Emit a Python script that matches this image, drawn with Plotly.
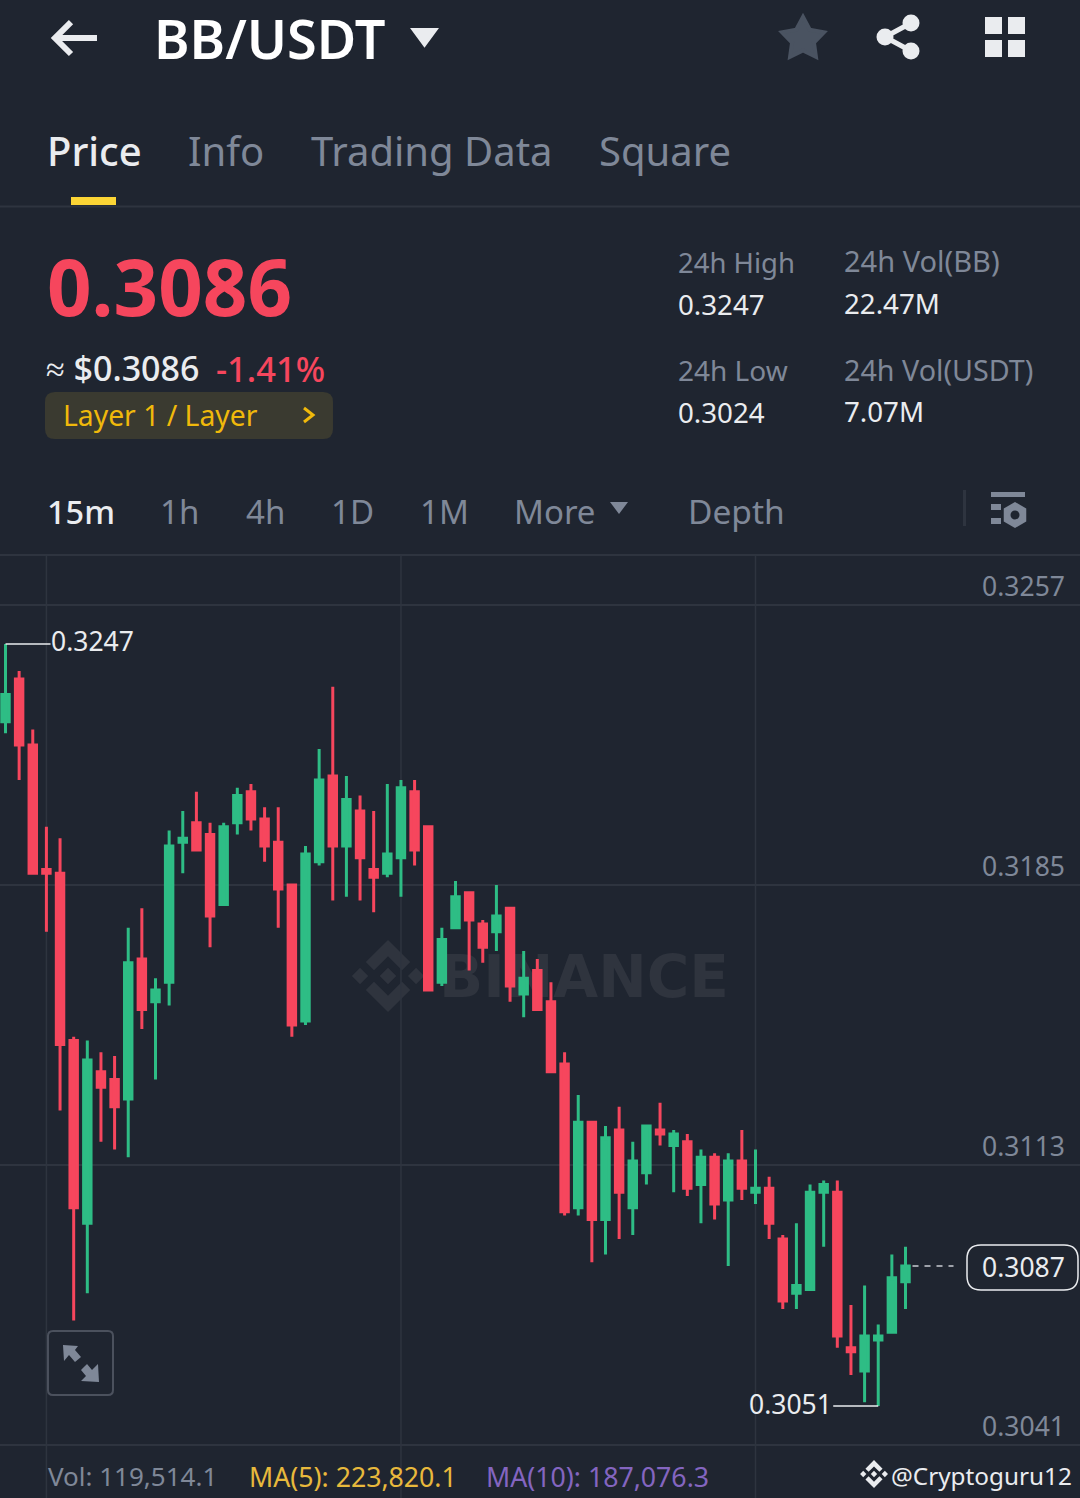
import math
import plotly.graph_objects as go

# ---------- data ----------
symbol = "BB/USDT"
last_price = 0.3087
high_label = 0.3247
low_label = 0.3051
price_ticks = [0.3257, 0.3185, 0.3113, 0.3041]
time_grid = [3, 29, 55]

opens = [0.3227,0.3238,0.3221,0.3189,0.3188,0.3145,0.3098,0.3137,0.3135,0.3130,0.3166,0.3155,0.3160,0.3196,0.3201,0.3198,0.3180,
         0.3201,0.3209,0.3202,0.3196,0.3185,0.3150,0.3191,0.3213,0.3195,0.3204,0.3189,0.3188,0.3192,0.3209,0.3200,0.3160,0.3174,
         0.3183,0.3175,0.3173,0.3179,0.3157,0.3163,0.3155,0.3139,0.3102,0.3124,0.3099,0.3122,0.3102,0.3111,0.3122,0.3118,0.3119,
         0.3108,0.3115,0.3104,0.3114,0.3106,0.3107,0.3094,0.3080,0.3081,0.3106,0.3106,0.3066,0.3060,0.3068,0.3070,0.3083]
highs = [0.3247,0.3240,0.3225,0.3200,0.3197,0.3146,0.3145,0.3142,0.3141,0.3174,0.3179,0.3161,0.3199,0.3204,0.3209,0.3201,0.3201,
         0.3210,0.3211,0.3205,0.3205,0.3185,0.3195,0.3220,0.3236,0.3213,0.3208,0.3204,0.3211,0.3212,0.3212,0.3200,0.3174,0.3186,
         0.3183,0.3176,0.3185,0.3179,0.3168,0.3166,0.3160,0.3142,0.3131,0.3124,0.3123,0.3128,0.3119,0.3123,0.3129,0.3122,0.3121,
         0.3117,0.3116,0.3116,0.3122,0.3117,0.3110,0.3095,0.3098,0.3108,0.3109,0.3109,0.3077,0.3082,0.3072,0.3090,0.3092]
lows = [0.3224,0.3212,0.3188,0.3173,0.3127,0.3073,0.3080,0.3119,0.3117,0.3115,0.3148,0.3135,0.3154,0.3188,0.3194,0.3169,0.3180,
        0.3198,0.3199,0.3191,0.3174,0.3146,0.3149,0.3190,0.3181,0.3182,0.3181,0.3178,0.3187,0.3182,0.3190,0.3158,0.3159,0.3174,
        0.3163,0.3165,0.3168,0.3155,0.3151,0.3153,0.3137,0.3100,0.3100,0.3088,0.3090,0.3094,0.3095,0.3108,0.3118,0.3106,0.3105,
        0.3098,0.3099,0.3087,0.3104,0.3103,0.3094,0.3076,0.3076,0.3081,0.3092,0.3066,0.3059,0.3052,0.3051,0.3070,0.3076]
closes = [0.3234,0.3221,0.3188,0.3188,0.3144,0.3102,0.3140,0.3133,0.3128,0.3165,0.3153,0.3158,0.3195,0.3197,0.3194,0.3177,0.3200,
          0.3208,0.3202,0.3195,0.3184,0.3149,0.3193,0.3212,0.3195,0.3207,0.3192,0.3187,0.3193,0.3210,0.3194,0.3158,0.3171,0.3182,
          0.3176,0.3169,0.3177,0.3159,0.3161,0.3153,0.3137,0.3101,0.3124,0.3099,0.3120,0.3106,0.3114,0.3123,0.3121,0.3121,0.3107,
          0.3115,0.3103,0.3114,0.3107,0.3107,0.3098,0.3078,0.3082,0.3106,0.3108,0.3069,0.3065,0.3069,0.3069,0.3084,0.3087]
candle_index = list(range(len(opens)))

# ---------- style ----------
W, H = 1080, 1498
BG = "#1f2530"
GRID = "#2e343f"
RED = "#F6465D"
GREEN = "#2EBD85"
WHITE = "#EAECEF"
GREY = "#7f8898"
YELLOW = "#FCD535"
FONT = "Noto Sans"
TOP, BOTTOM = 555, 1445
PX_PER_PRICE = 280 / 0.0072
STEP = 900 / 66

def fx(x): return x / W
def fy(y): return 1 - y / H

shapes = []
annotations = []

def label(text, x, y, size, color, anchor="left", weight=400, font=FONT):
    annotations.append(dict(text=text, x=fx(x), y=fy(y), xref="paper", yref="paper",
                            xanchor=anchor, yanchor="middle", showarrow=False, borderpad=0, borderwidth=0,
                            font=dict(family=font, size=size, color=color, weight=weight)))

def path(points, fill=None, stroke=None, width=0, close=True, layer="above"):
    d = "M " + " L ".join(f"{fx(a):.5f},{fy(b):.5f}" for a, b in points) + (" Z" if close else "")
    shapes.append(dict(type="path", path=d, xref="paper", yref="paper", layer=layer,
                       fillcolor=fill if fill else "rgba(0,0,0,0)",
                       line=dict(color=stroke if stroke else "rgba(0,0,0,0)", width=width)))

def rect(x0, y0, x1, y1, fill, layer="above"):
    shapes.append(dict(type="rect", xref="paper", yref="paper", x0=fx(x0), x1=fx(x1), y0=fy(y1), y1=fy(y0),
                       fillcolor=fill, line=dict(width=0), layer=layer))

def hline(y, x0=0, x1=W, color=GRID, width=2):
    shapes.append(dict(type="line", xref="paper", yref="paper", x0=fx(x0), x1=fx(x1), y0=fy(y), y1=fy(y),
                       line=dict(color=color, width=width), layer="below"))

def circle(cx, cy, r, fill):
    shapes.append(dict(type="circle", xref="paper", yref="paper", x0=fx(cx - r), x1=fx(cx + r),
                       y0=fy(cy + r), y1=fy(cy - r), fillcolor=fill, line=dict(width=0)))

def rrect(x0, y0, x1, y1, r, fill=None, stroke=None, width=0, layer="above"):
    def X(a): return f"{fx(a):.5f}"
    def Y(b): return f"{fy(b):.5f}"
    d = (f"M {X(x0+r)},{Y(y0)} L {X(x1-r)},{Y(y0)} Q {X(x1)},{Y(y0)} {X(x1)},{Y(y0+r)} "
         f"L {X(x1)},{Y(y1-r)} Q {X(x1)},{Y(y1)} {X(x1-r)},{Y(y1)} L {X(x0+r)},{Y(y1)} "
         f"Q {X(x0)},{Y(y1)} {X(x0)},{Y(y1-r)} L {X(x0)},{Y(y0+r)} Q {X(x0)},{Y(y0)} {X(x0+r)},{Y(y0)} Z")
    shapes.append(dict(type="path", path=d, xref="paper", yref="paper", layer=layer,
                       fillcolor=fill if fill else "rgba(0,0,0,0)",
                       line=dict(color=stroke if stroke else "rgba(0,0,0,0)", width=width)))

LOGO = [
    [(38.73,53.2),(63.32,28.62),(87.92,53.22),(102.22,38.91),(63.32,0),(24.42,38.9)],
    [(0,63.31),(14.3,49),(28.61,63.31),(14.3,77.61)],
    [(38.73,73.41),(63.32,98),(87.92,73.4),(102.23,87.69),(63.33,126.6),(24.42,87.72)],
    [(98.28,63.31),(112.58,49),(126.89,63.3),(112.58,77.62)],
    [(77.83,63.3),(63.32,48.78),(48.81,63.28),(63.32,77.78)],
]
def logo(cx, cy, s, fill, layer="above"):
    for poly in LOGO:
        path([(cx + (a - 63.3) * s, cy + (b - 63.3) * s) for a, b in poly], fill=fill, layer=layer)

# ---------- header ----------
path([(97, 38), (56, 38)], stroke=WHITE, width=6, close=False)
path([(71, 22), (55, 38), (71, 54)], stroke=WHITE, width=6, close=False)
label(symbol, 154, 38, 54, "#FFFFFF", weight=600)
path([(412, 29), (437, 29), (424.5, 46)], fill=WHITE, stroke=WHITE, width=2)

star = []
for i in range(10):
    r = 22 if i % 2 == 0 else 11.5
    ang = -math.pi / 2 + i * math.pi / 5
    star.append((803 + r * math.cos(ang), 39 + r * math.sin(ang)))
path(star, fill="#4a5361", stroke="#4a5361", width=4)

path([(911, 23), (885, 37), (911, 51)], stroke=WHITE, width=5, close=False)
circle(911, 23, 8.5, WHITE); circle(885, 37, 8.5, WHITE); circle(911, 51, 8.5, WHITE)
for x0, x1 in ((985, 1002), (1008, 1025)):
    for y0, y1 in ((17, 34), (40, 57)):
        rect(x0, y0, x1, y1, WHITE)

# ---------- tabs ----------
label("Price", 47, 151, 40, WHITE, weight=500)
label("Info", 188, 151, 40, GREY)
label("Trading Data", 311, 151, 40, GREY)
label("Square", 599, 151, 40, GREY)
rect(71, 197, 116, 205, YELLOW)
hline(206.5)

# ---------- price block ----------
label("0.3086", 47, 286, 78, RED, weight=700)
label("≈ $0.3086", 46, 368, 34, WHITE, weight=500)
label("-1.41%", 216, 368, 34.5, RED, weight=500)
rrect(45, 392, 333, 439, 10, fill="#3a3a30")
label("Layer 1 / Layer", 63, 415, 28.3, "#F0B90B")
path([(304, 408), (313, 415), (304, 422)], stroke="#F0B90B", width=3, close=False)

label("24h High", 678, 262, 27.5, GREY)
label("0.3247", 678, 304, 27.7, WHITE)
label("24h Low", 678, 370, 28, GREY)
label("0.3024", 678, 412, 27.7, WHITE)
label("24h Vol(BB)", 844, 261, 29, GREY)
label("22.47M", 844, 303, 27.7, WHITE)
label("24h Vol(USDT)", 844, 369, 28.7, GREY)
label("7.07M", 844, 411, 27.7, WHITE)

# ---------- interval bar ----------
label("15m", 47, 511, 32.5, WHITE, weight=500)
for t, x, s in (("1h", 160, 33), ("4h", 246, 33), ("1D", 331, 33), ("1M", 420, 33), ("More", 514, 33), ("Depth", 688, 33.5)):
    label(t, x, 511, s, GREY)
path([(610, 502), (628, 502), (619, 514)], fill=GREY)
rect(963, 490, 966, 526, GRID)
rect(991, 492, 1025, 497, GREY)
rect(991, 504, 1001, 510, GREY)
rect(991, 518, 1001, 524, GREY)
hexa = [(1015 + 13 * math.cos(math.pi / 6 + i * math.pi / 3), 515 + 13 * math.sin(math.pi / 6 + i * math.pi / 3)) for i in range(6)]
path(hexa, fill=GREY)
circle(1015, 515, 4.5, BG)
hline(TOP)

# ---------- chart furniture ----------
hline(BOTTOM)
logo(388, 976, 0.57, "#2f343e", layer="below")
shapes.append(dict(type="rect", xref="paper", yref="paper", x0=fx(440), x1=fx(728), y0=fy(1003), y1=fy(943),
                   line=dict(width=0), fillcolor="rgba(0,0,0,0)", layer="below",
                   label=dict(text="BINANCE", textposition="middle center",
                              font=dict(family="DejaVu Sans", size=58, color="#2f343e", weight=700))))
for t in time_grid:
    shapes.append(dict(type="line", xref="x", yref="paper", x0=t, x1=t, y0=0, y1=fy(TOP),
                       line=dict(color=GRID, width=1.5), layer="below"))

# high/low leaders
shapes.append(dict(type="line", xref="x", yref="y", xsizemode="pixel", xanchor=candle_index[0],
                   x0=0, x1=45, y0=high_label, y1=high_label, line=dict(color=WHITE, width=1.5)))
annotations.append(dict(text=f"{high_label:.4f}", x=candle_index[0], y=high_label, xref="x", yref="y", xshift=44,
                        yshift=3, xanchor="left", yanchor="middle", showarrow=False, borderpad=0,
                        font=dict(family=FONT, size=26.5, color=WHITE)))
shapes.append(dict(type="line", xref="x", yref="y", xsizemode="pixel", xanchor=candle_index[64],
                   x0=-45, x1=0, y0=low_label, y1=low_label, line=dict(color=WHITE, width=1.5)))
annotations.append(dict(text=f"{low_label:.4f}", x=candle_index[64], y=low_label, xref="x", yref="y", xshift=-45,
                        yshift=2, xanchor="right", yanchor="middle", showarrow=False, borderpad=0,
                        font=dict(family=FONT, size=26.5, color=WHITE)))

# last price
shapes.append(dict(type="line", xref="x", yref="y", xsizemode="pixel", xanchor=candle_index[-1],
                   x0=7, x1=48, y0=last_price, y1=last_price, line=dict(color="#c9ccd2", width=1.5, dash="6px,6px")))
rrect(967, 1245, 1078, 1290, 14, fill=BG, stroke=WHITE, width=1.5)
annotations.append(dict(text=f"{last_price:.4f}", x=fx(1023), y=last_price, xref="paper", yref="y",
                        yshift=-1, xanchor="center", yanchor="middle", showarrow=False, borderpad=0,
                        font=dict(family=FONT, size=26.5, color=WHITE)))

# expand button
rrect(48, 1331, 113, 1395, 5, stroke="#4b515d", width=2)
path([(63, 1345), (78, 1346), (75, 1350), (81, 1357), (75, 1362), (69, 1355), (64, 1361)], fill=GREY)
path([(99, 1382), (81, 1381), (86, 1376), (81, 1370), (87, 1364), (92, 1370), (98, 1364)], fill=GREY)

# footer
label("Vol: 119,514.1", 48, 1476, 26, GREY)
label("MA(5): 223,820.1", 249, 1476, 26.7, "#E8B93C")
label("MA(10): 187,076.3", 486, 1476, 26.7, "#8465C0")
logo(874, 1474, 0.22, WHITE)
label("@Cryptoguru12", 891, 1475, 24.3, WHITE)

# ---------- figure ----------
fig = go.Figure(go.Candlestick(
    x=candle_index, open=opens, high=highs, low=lows, close=closes,
    increasing=dict(line=dict(color=GREEN, width=3), fillcolor=GREEN),
    decreasing=dict(line=dict(color=RED, width=3), fillcolor=RED),
    whiskerwidth=0, hoverinfo="skip", showlegend=False,
))
y_top = 0.3257 + (605 - TOP) / PX_PER_PRICE
y_bot = 0.3041 - (BOTTOM - 1445) / PX_PER_PRICE
fig.update_layout(
    width=W, height=H, margin=dict(l=0, r=0, t=0, b=0, pad=0),
    paper_bgcolor=BG, plot_bgcolor=BG, showlegend=False, boxgap=0.22,
    font=dict(family=FONT),
    xaxis=dict(range=[-5.5 / STEP, (W - 5.5) / STEP], rangeslider=dict(visible=False), tickmode="array",
               tickvals=time_grid, showticklabels=False, showgrid=False, zeroline=False, ticks="",
               anchor="y", domain=[0, 1]),
    yaxis=dict(range=[y_bot, y_top], domain=[fy(BOTTOM), fy(TOP)], side="right", tickmode="array",
               tickvals=price_ticks, tickformat=".4f", ticklabelposition="inside top", ticks="",
               ticklabelstandoff=12, showgrid=True, gridcolor=GRID, gridwidth=2, zeroline=False,
               tickfont=dict(family=FONT, size=26.5, color=GREY), showline=False),
    shapes=shapes, annotations=annotations,
)
fig.write_html("out.html", post_script="document.body.style.margin='0';document.documentElement.style.overflow='hidden';",
               config=dict(displayModeBar=False))
